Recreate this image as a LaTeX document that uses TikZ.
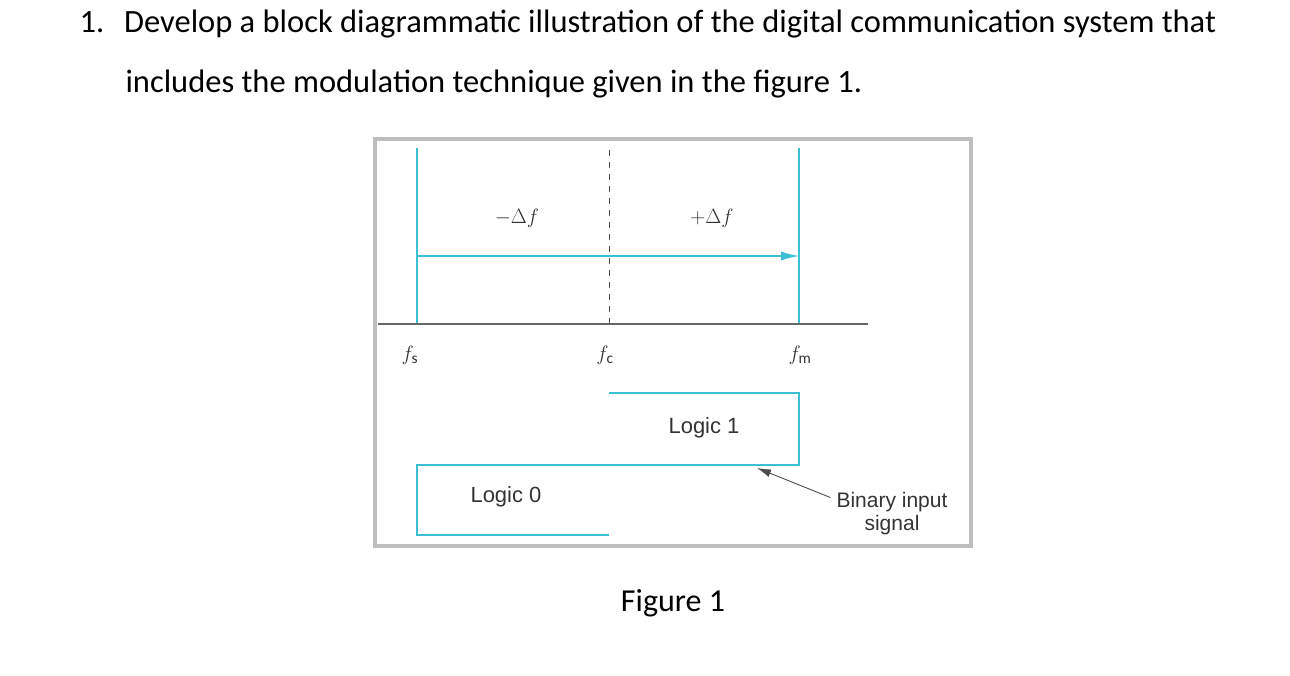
\documentclass[tikz,border=0pt]{standalone}
\usepackage{fontspec}
\setmainfont{Carlito}
\newfontfamily\arial{Liberation Sans}
\usetikzlibrary{arrows.meta}
\definecolor{cy}{RGB}{60,190,215}
\definecolor{fr}{RGB}{190,190,190}
\begin{document}
\begin{tikzpicture}[x=1pt,y=-1pt,
  sig/.style={draw=cy,line width=1.3pt},
  lab/.style={font=\arial\fontsize{22}{26}\selectfont,text=black!80},
  mlab/.style={font=\fontsize{22}{26}\selectfont,text=black!80}]
\useasboundingbox (0,0) rectangle (1290,676);
\node[anchor=west,font=\fontsize{32.5}{36}\selectfont] (q1) at (76,24) {1.\hspace{20pt}Develop a block diagrammatic illustration of the digital communication system that};
\node[anchor=west,font=\fontsize{32.5}{36}\selectfont] (q2) at (122,84) {includes the modulation technique given in the figure 1.};
\draw[fr,line width=4.5pt] (375,139) rectangle (971,546);
\coordinate (fsT) at (417,148); \coordinate (fsB) at (417,324);
\coordinate (fmT) at (799,148); \coordinate (fmB) at (799,324);
\coordinate (fcT) at (609,150); \coordinate (fcB) at (609,324);
\draw[sig] (fsT) -- (fsB);
\draw[sig] (fmT) -- (fmB);
\draw[black!70,line width=1pt,dash pattern=on 6pt off 6pt] (fcT) -- (fcB);
\coordinate (axL) at (378,324); \coordinate (axR) at (868,324);
\draw[black!60,line width=1.2pt] (axL) -- (axR);
\coordinate (arL) at (417,256); \coordinate (arR) at (799,256);
\draw[cy,line width=1.3pt,-{Latex[length=18pt,width=9pt]}] (arL) -- (arR);
\node[mlab] (md) at (517,218) {$-\Delta f$};
\node[mlab] (pd) at (712,218) {$+\Delta f$};
\node[mlab] (fs) at (410,355) {$f_{\mathrm{s}}$};
\node[mlab] (fc) at (605,355) {$f_{\mathrm{c}}$};
\node[mlab] (fm) at (800,355) {$f_{\mathrm{m}}$};
\draw[sig] (609,393) -- (799,393) -- (799,465) -- (417,465) -- (417,535) -- (609,535);
\node[lab] (l1) at (704,428) {Logic 1};
\node[lab] (l0) at (506,497) {Logic 0};
\node[lab,align=center,font=\arial\fontsize{21}{23}\selectfont,inner sep=1pt] (bin) at (892,514) {Binary input\\signal};
\coordinate (tip) at (757,468);
\draw[black!70,line width=0.9pt,-{Latex[length=14pt,width=8pt]}] (bin.north west) ++(-5,6) -- (tip);
\node[font=\fontsize{32}{36}\selectfont] (fig) at (673,603) {Figure 1};
\end{tikzpicture}
\end{document}
